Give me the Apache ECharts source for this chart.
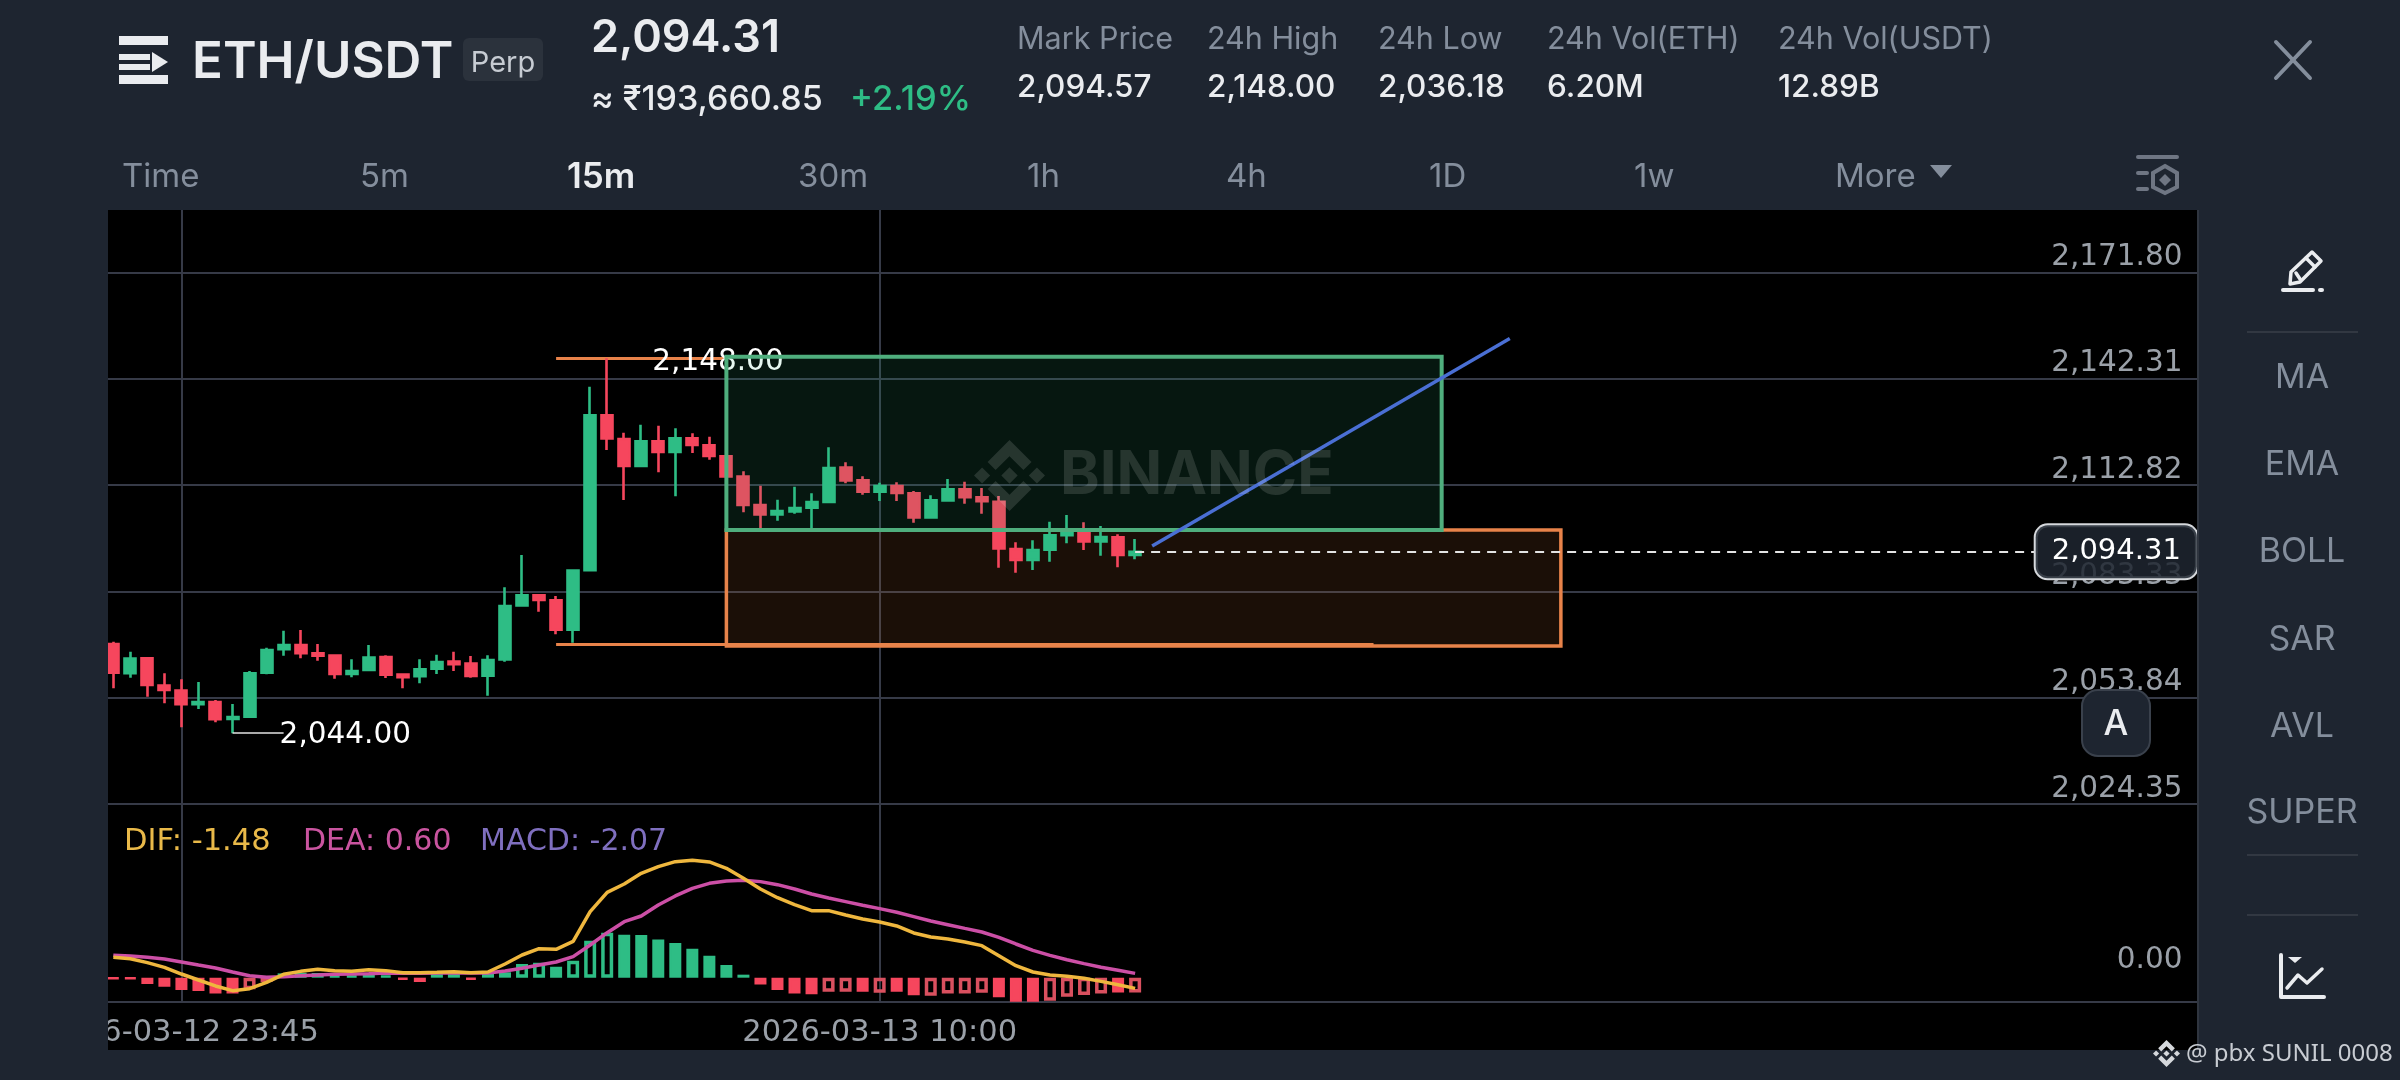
<!DOCTYPE html>
<html><head><meta charset="utf-8"><title>ETH/USDT Perp</title>
<script src="https://cdn.jsdelivr.net/npm/echarts@6/dist/echarts.min.js"></script>
<style>html,body{margin:0;padding:0;background:#1e2530}#c{width:2400px;height:1080px}</style></head>
<body><div id="c"></div>
<script>
const timeLabels = ['2026-03-12 22:45','2026-03-12 23:00','2026-03-12 23:15','2026-03-12 23:30','2026-03-12 23:45','2026-03-13 00:00','2026-03-13 00:15','2026-03-13 00:30','2026-03-13 00:45','2026-03-13 01:00','2026-03-13 01:15','2026-03-13 01:30','2026-03-13 01:45','2026-03-13 02:00','2026-03-13 02:15','2026-03-13 02:30','2026-03-13 02:45','2026-03-13 03:00','2026-03-13 03:15','2026-03-13 03:30','2026-03-13 03:45','2026-03-13 04:00','2026-03-13 04:15','2026-03-13 04:30','2026-03-13 04:45','2026-03-13 05:00','2026-03-13 05:15','2026-03-13 05:30','2026-03-13 05:45','2026-03-13 06:00','2026-03-13 06:15','2026-03-13 06:30','2026-03-13 06:45','2026-03-13 07:00','2026-03-13 07:15','2026-03-13 07:30','2026-03-13 07:45','2026-03-13 08:00','2026-03-13 08:15','2026-03-13 08:30','2026-03-13 08:45','2026-03-13 09:00','2026-03-13 09:15','2026-03-13 09:30','2026-03-13 09:45','2026-03-13 10:00','2026-03-13 10:15','2026-03-13 10:30','2026-03-13 10:45','2026-03-13 11:00','2026-03-13 11:15','2026-03-13 11:30','2026-03-13 11:45','2026-03-13 12:00','2026-03-13 12:15','2026-03-13 12:30','2026-03-13 12:45','2026-03-13 13:00','2026-03-13 13:15','2026-03-13 13:30','2026-03-13 13:45'];
const opens  = [2068.74,2060.60,2064.76,2057.18,2055.79,2052.00,2052.65,2047.93,2048.58,2060.78,2067.26,2068.46,2066.15,2065.50,2060.41,2061.52,2065.13,2060.23,2059.77,2061.89,2063.84,2063.28,2059.95,2064.48,2079.46,2082.24,2080.85,2072.71,2089.17,2132.16,2125.60,2118.11,2124.95,2121.99,2125.78,2123.84,2120.79,2115.15,2107.29,2104.70,2105.53,2106.55,2108.12,2117.65,2114.13,2110.99,2112.56,2110.53,2103.87,2108.58,2111.64,2109.42,2108.21,2095.09,2092.03,2094.90,2098.88,2100.17,2097.21,2098.32,2093.42];
const closes = [2060.78,2064.67,2057.36,2055.98,2052.00,2052.65,2047.84,2048.49,2060.60,2067.07,2068.46,2066.15,2065.50,2060.41,2061.25,2064.95,2060.23,2059.49,2061.71,2063.74,2063.10,2059.86,2064.30,2079.28,2082.24,2080.94,2072.71,2089.08,2132.16,2125.78,2118.11,2124.95,2121.99,2125.78,2123.93,2120.88,2115.24,2107.29,2104.70,2105.63,2106.46,2108.12,2117.55,2114.13,2110.99,2112.56,2110.62,2103.87,2108.58,2111.64,2109.42,2108.31,2095.27,2092.03,2094.81,2098.88,2100.36,2097.21,2098.41,2093.42,2094.31];
const highs  = [2069.38,2066.61,2065.04,2060.60,2058.94,2058.20,2053.20,2052.09,2061.25,2067.72,2072.44,2072.62,2068.74,2065.60,2064.48,2068.46,2065.59,2060.30,2064.48,2065.78,2066.61,2065.41,2065.59,2084.46,2093.43,2082.30,2082.05,2089.45,2140.11,2148.00,2127.35,2129.57,2129.30,2128.56,2127.17,2126.25,2123.01,2116.63,2112.65,2108.77,2112.38,2110.53,2123.29,2119.13,2115.24,2113.49,2113.58,2111.17,2109.97,2114.50,2113.76,2112.01,2109.79,2096.93,2097.49,2102.67,2104.52,2102.48,2101.46,2099.15,2097.86];
const lows   = [2056.44,2059.40,2054.13,2052.28,2045.62,2050.71,2047.01,2044.00,2048.50,2060.32,2065.50,2064.76,2064.11,2059.12,2059.49,2061.50,2059.31,2056.44,2057.83,2060.41,2061.25,2059.40,2054.41,2063.84,2079.19,2077.71,2071.42,2069.11,2089.00,2122.55,2108.68,2118.00,2116.35,2109.69,2121.71,2119.87,2114.90,2105.26,2100.73,2102.94,2104.89,2100.54,2108.00,2113.30,2110.16,2108.40,2108.40,2102.39,2103.80,2108.40,2107.66,2104.89,2089.91,2088.52,2089.26,2091.57,2096.66,2094.81,2093.24,2090.00,2092.22];
const difValues = [2.83,2.64,2.09,1.44,0.51,-0.32,-1.15,-1.80,-1.52,-0.65,0.47,0.88,1.16,0.98,0.88,1.11,0.98,0.70,0.70,0.74,0.84,0.70,0.79,1.90,3.15,4.03,3.94,5.05,9.17,11.85,13.01,14.49,15.42,16.11,16.30,16.07,15.19,13.80,12.32,11.11,10.14,9.31,9.31,8.71,8.15,7.73,7.18,6.21,5.65,5.37,4.96,4.45,3.06,1.67,0.79,0.37,0.19,-0.09,-0.51,-0.97,-1.48];
const deaValues = [3.10,3.01,2.83,2.60,2.18,1.76,1.35,0.79,0.28,0.05,0.14,0.28,0.37,0.47,0.51,0.56,0.65,0.60,0.60,0.65,0.70,0.65,0.65,0.93,1.30,1.76,2.18,2.92,4.54,6.25,7.78,8.57,10.10,11.35,12.41,13.10,13.43,13.52,13.34,12.92,12.32,11.62,11.07,10.56,10.05,9.59,9.08,8.48,7.87,7.36,6.85,6.35,5.60,4.68,3.80,3.10,2.50,1.95,1.44,1.02,0.60];
const macdValues = [-0.14,-0.14,-0.88,-1.25,-1.71,-1.85,-2.18,-2.18,-1.62,-0.60,0.60,0.70,0.65,0.30,0.30,0.45,0.30,-0.32,-0.60,0.50,0.50,-0.30,0.60,0.75,1.90,2.08,1.53,2.36,5.14,6.25,5.97,5.93,5.32,4.81,4.03,3.06,1.76,0.42,-0.93,-1.71,-2.18,-2.31,-1.94,-1.94,-1.94,-2.08,-1.94,-2.45,-2.50,-2.18,-2.18,-2.08,-2.73,-3.33,-3.33,-3.19,-2.64,-2.41,-2.18,-2.07,-2.07];
const macdHollow = [0,0,0,0,0,0,0,0,1,1,1,0,0,0,0,0,0,0,0,0,0,0,0,1,1,1,0,1,1,1,0,0,0,0,0,0,0,0,0,0,0,0,1,1,0,1,0,0,1,1,1,1,0,0,0,1,1,1,1,0,1];
const priceTicks = [2171.80,2142.31,2112.82,2083.33,2053.84,2024.35];
const macdTicks = [0];
const labelledIndexes = [4,45];
const GREEN='#2ebd85', RED='#f6465d', BG='#1e2530', GRID='#363a47', MUTED='#848e9c', AXIS='#9aa0a8', WHITE='#eaecef';
const FONT='Inter', NUM='"DejaVu Sans"';
// empty future slots to the right of the last candle, where the drawing tools reach
const axisCategories = timeLabels.concat(Array.from({length:62},(_,i)=>'future '+(i+1)));
const money = v => v.toLocaleString('en-US',{minimumFractionDigits:2,maximumFractionDigits:2});
const showIndex = i => labelledIndexes.includes(i);
const z = 60;
const G = [];
function t(x,y,text,font,fill,align,zz,fam){G.push({type:'text',x,y,z:zz||z,silent:true,style:{text,font:font+' '+(fam||FONT),fill,align:align||'left',verticalAlign:'middle'}});}
function r(x,y,w,h,fill,zz,extra){G.push({type:'rect',z:zz||z,silent:true,shape:Object.assign({x,y,width:w,height:h},extra&&extra.shape||{}),style:Object.assign({fill},extra&&extra.style||{})});}
function pl(points,color,w){G.push({type:'polyline',z,silent:true,shape:{points},style:{fill:null,stroke:color,lineWidth:w,lineCap:'round',lineJoin:'round'}});}
function pg(points,fill,zz,extra){G.push({type:'polygon',z:zz||z,silent:true,shape:{points},style:Object.assign({fill},extra||{})});}
const logoParts=[
 [[38.17,53.2],[62.76,28.6],[87.36,53.2],[101.67,38.9],[62.76,0],[24.07,38.69]],
 [[0,62.76],[14.3,48.45],[28.6,62.76],[14.3,77.07]],
 [[38.17,72.3],[62.76,96.9],[87.36,72.3],[101.67,86.6],[62.76,125.5],[24.07,86.83]],
 [[96.9,62.76],[111.2,48.45],[125.5,62.76],[111.2,77.07]],
 [[62.76,48.24],[77.27,62.75],[62.76,77.27],[48.24,62.75]]];
function logo(x,y,s,fill,zz){logoParts.forEach(part=>pg(part.map(q=>[x+q[0]*s/125.5,y+q[1]*s/125.5]),fill,zz));}
// panels
r(108,210,2090,840,'#000',-10);
r(0,210,108,840,BG,50);
r(2198,0,202,1080,BG,50);
r(0,0,2400,210,BG,50);
r(0,1050,2400,30,BG,50);
r(2197,210,2,840,'#2f353f',51);
// header
r(119,36,49,9,WHITE); r(119,75,49,9,WHITE); r(119,54,31,6,WHITE); r(119,64,31,6,WHITE);
pg([[152,52],[168,62],[152,72]],WHITE);
t(192,63,'ETH/USDT','600 51px',WHITE);
r(463,38,80,43,'#2b323c',z,{shape:{r:6}});
t(503,63,'Perp','400 29px','#c7ccd3','center');
t(591,38,'2,094.31','600 45px',WHITE);
t(591,100,'≈ ₹193,660.85','500 34px',WHITE);
t(850,100,'+2.19%','500 34.5px',GREEN);
const statLabels=['Mark Price','24h High','24h Low','24h Vol(ETH)','24h Vol(USDT)'];
const statValues=['2,094.57','2,148.00','2,036.18','6.20M','12.89B'];
const statX=[1017,1207,1378,1547,1778];
statLabels.forEach((s,i)=>{t(statX[i],40,s,'400 30.5px',MUTED);t(statX[i],88,statValues[i],'500 31.5px',WHITE);});
const tabs=['Time','5m','15m','30m','1h','4h','1D','1w','More'];
const tabX=[122,360,567,798,1027,1226,1429,1634,1835];
tabs.forEach((s,i)=>t(tabX[i],177,s,i===2?'600 35px':'400 33px',i===2?WHITE:MUTED));
pg([[1930,165],[1952,165],[1941,178]],MUTED);
pl([[2276,42],[2310,78]],MUTED,4); pl([[2310,42],[2276,78]],MUTED,4);
pl([[2138,157],[2177,157]],'#6f7683',4); pl([[2138,173],[2147,173]],'#6f7683',4); pl([[2138,189],[2147,189]],'#6f7683',4);
pg([[2165,166],[2177,173],[2177,187],[2165,193],[2153,187],[2153,173]],'none',z,{stroke:'#6f7683',lineWidth:4});
pg([[2165,174],[2171,180],[2165,186],[2159,180]],'#6f7683');
// side menu
pg([[2291,272],[2312,252],[2321,261],[2300,282],[2290,284]],'none',z,{stroke:WHITE,lineWidth:3.5,lineJoin:'round'});
pl([[2306,258],[2315,267]],WHITE,3.5); pl([[2296,273],[2300,279]],WHITE,3.5);
pl([[2283,290],[2313,290]],WHITE,4); pl([[2320,290],[2322,290]],WHITE,4);
const sideLabels=['MA','EMA','BOLL','SAR','AVL','SUPER'];
const sideY=[378,465,552,640,727,813];
sideLabels.forEach((s,i)=>t(2302,sideY[i],s,'400 34px',MUTED,'center'));
[331,854,914].forEach(y=>r(2247,y,111,2,'#323842'));
pl([[2281,955],[2281,997],[2324,997]],WHITE,4);
pl([[2287,988],[2298,975],[2307,983],[2322,969]],WHITE,3.5);
pg([[2288,957],[2302,957],[2295,963]],WHITE);
// A button
r(2082,690,68,66,'#1e2530',z,{shape:{r:16},style:{stroke:'#3a414c',lineWidth:2}});
t(2116,724,'A','500 35px',WHITE,'center');
// MACD legend
t(124,842,'DIF: -1.48','400 30.5px','#e9b949',null,20,NUM);
t(303,842,'DEA: 0.60','400 30px','#c9549f',null,20,NUM);
t(480,842,'MACD: -2.07','400 30px','#7f6fbf',null,20,NUM);
// watermark
logo(974,440,71,'rgba(255,255,255,0.13)',30);
t(1060,476,'BINANCE','700 60px','rgba(255,255,255,0.13)',null,30);
// post credit
logo(2153,1040,27,'#d5d8dc',z);
G.push({type:'text',x:2186,y:1054,z,silent:true,style:{text:'@ pbx SUNIL 0008',font:'400 24px "Noto Sans"',fill:'#c8ccd2',align:'left',verticalAlign:'middle'}});

const xBase = {type:'category',data:axisCategories,min:0,max:122,boundaryGap:true,
  axisTick:{show:false},
  splitLine:{show:true,alignWithLabel:true,interval:showIndex,lineStyle:{color:GRID,width:2}}};
const noop={show:false};
const candleData = opens.map((o,i)=>[o,closes[i],lows[i],highs[i]]);
const macdBars = macdValues.map((v,i)=>{const c=v>=0?GREEN:RED;const hollow=macdHollow[i];
  return {value:v,itemStyle:{color:hollow?'rgba(0,0,0,0)':c,borderColor:hollow&&v<0?'#d9505f':c,borderWidth:hollow?3.5:2.5}};});
const option={
  animation:false,backgroundColor:BG,graphic:{elements:G},
  textStyle:{fontFamily:FONT},
  grid:[{left:104.8,top:210,width:2094.7,height:594,containLabel:false},{left:104.8,top:804,width:2094.7,height:197.6,containLabel:false}],
  xAxis:[
    Object.assign({},xBase,{gridIndex:0,axisLine:{show:false,onZero:false},axisLabel:noop}),
    Object.assign({},xBase,{gridIndex:1,axisLine:{show:true,onZero:false,lineStyle:{color:GRID,width:2}},
      axisLabel:{show:true,interval:showIndex,color:AXIS,fontSize:30.5,fontFamily:NUM,margin:16,hideOverlap:false,showMinLabel:true,showMaxLabel:true}})
  ],
  yAxis:[
    {type:'value',gridIndex:0,position:'right',min:2024.35,max:2189.12,scale:true,axisLine:noop,
     axisTick:{show:false,customValues:priceTicks},
     axisLabel:{inside:true,customValues:priceTicks,margin:17,color:AXIS,fontSize:29.5,fontFamily:NUM,verticalAlign:'bottom',padding:[0,0,0,0],showMinLabel:true,showMaxLabel:true,hideOverlap:false,formatter:v=>money(v)},
     splitLine:{show:true,lineStyle:{color:GRID,width:2}}},
    {type:'value',gridIndex:1,position:'right',min:-3.32,max:24.12,axisLine:noop,
     axisTick:{show:false,customValues:macdTicks},
     axisLabel:{inside:true,customValues:macdTicks,margin:17,color:AXIS,fontSize:29.5,fontFamily:NUM,verticalAlign:'bottom',padding:[0,0,2,0],formatter:v=>v.toFixed(2)},
     splitLine:{show:false}}
  ],
  series:[
    {name:'drawings back',type:'line',xAxisIndex:0,yAxisIndex:0,data:[],z:1,silent:true,
     markArea:{silent:true,z:1,label:{show:false},itemStyle:{color:'rgba(240,130,60,0.115)',borderColor:'#e8834a',borderWidth:3.5},
       data:[[{xAxis:36,yAxis:2100.35},{xAxis:85,yAxis:2068.2}]]},
     markLine:{silent:true,z:1,symbol:'none',label:{show:false},lineStyle:{type:'solid',color:'#e8834a',width:3},
       data:[[{xAxis:26,yAxis:2148},{xAxis:36,yAxis:2148}],[{xAxis:26,yAxis:2068.8},{xAxis:74,yAxis:2068.8}]]}},
    {name:'ETH/USDT',type:'candlestick',xAxisIndex:0,yAxisIndex:0,data:candleData,z:2,barWidth:11.5,silent:true,
     itemStyle:{color:GREEN,color0:RED,borderColor:GREEN,borderColor0:RED,borderWidth:2.6}},
    {name:'price line',type:'line',xAxisIndex:0,yAxisIndex:0,data:[],z:3,silent:true,
     markLine:{silent:true,z:4,symbol:'none',
       data:[
        [{xAxis:60,yAxis:2094.31,lineStyle:{type:[9,7],color:'#e3e3e3',width:2},
          label:{show:true,position:'end',distance:-2,formatter:money(2094.31),color:'#fff',fontSize:29,fontFamily:NUM,
            backgroundColor:'rgba(30,37,48,0.86)',borderColor:'#d5d8dc',borderWidth:2,borderRadius:12,padding:[12,16]}},
         {xAxis:113,yAxis:2094.31}],
        [{xAxis:7,yAxis:2044,lineStyle:{type:'solid',color:'#e3e3e3',width:1.5},
          label:{show:true,position:'end',distance:-4,offset:[0,2],formatter:money(2044),color:'#fff',fontSize:29.5,fontFamily:NUM}},
         {xAxis:10,yAxis:2044}]
       ]}},
    {name:'drawings front',type:'line',xAxisIndex:0,yAxisIndex:0,data:[],z:6,silent:true,
     markArea:{silent:true,z:6,label:{show:false},itemStyle:{color:'rgba(46,189,133,0.12)',borderColor:'#4fae7d',borderWidth:4},
       data:[[{xAxis:36,yAxis:2148.4},{xAxis:78,yAxis:2100.35}]]},
     markLine:{silent:true,z:7,symbol:'none',label:{show:false},lineStyle:{type:'solid',color:'#4a6fd4',width:3.5},
       data:[[{xAxis:61,yAxis:2095.9},{xAxis:82,yAxis:2153.5}]]},
     markPoint:{silent:true,z:5,symbol:'circle',symbolSize:0,
       data:[{coord:[32,2148],value:2148,label:{show:true,position:'right',distance:-6,offset:[0,4],formatter:money(2148),color:'#fff',fontSize:29.5,fontFamily:NUM}}]}},
    {name:'MACD',type:'bar',xAxisIndex:1,yAxisIndex:1,data:macdBars,barWidth:12,z:2,silent:true},
    {name:'DEA',type:'line',xAxisIndex:1,yAxisIndex:1,data:deaValues,showSymbol:false,lineStyle:{color:'#cc4fa6',width:3.5},smooth:false,z:3,silent:true},
    {name:'DIF',type:'line',xAxisIndex:1,yAxisIndex:1,data:difValues,showSymbol:false,lineStyle:{color:'#efb73e',width:3.5},smooth:false,z:4,silent:true}
  ]
};
echarts.init(document.getElementById('c')).setOption(option);
</script></body></html>
